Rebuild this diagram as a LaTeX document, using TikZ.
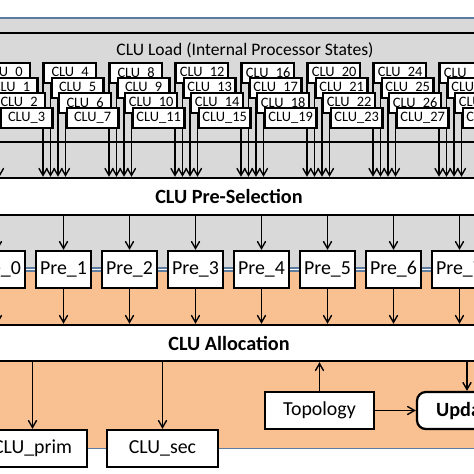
\documentclass[tikz,border=0pt]{standalone}
\usepackage{fontspec}
\setmainfont{Carlito}
\usetikzlibrary{arrows,positioning}
\definecolor{loadgray}{HTML}{D9D9D9}
\definecolor{allocorange}{HTML}{F9C091}
\definecolor{frameblue}{HTML}{5B7BA0}
\tikzset{
	>=angle 60, % open heads
	flow/.style={->, line width=0.8pt},
	feed/.style={->, line width=0.8pt},
	frame/.style={draw=frameblue, line width=1.1pt},
	link/.style={draw=frameblue, line width=0.8pt, double=white, double distance=1.1pt},
	box/.style={draw, fill=white, line width=1.3pt, inner sep=0pt},
	card/.style={box, anchor=north west, minimum width=1.04cm, minimum height=0.4cm, font=\fontsize{8.2}{9}\selectfont},
	unit/.style={box, minimum width=1.1cm, minimum height=0.74cm, font=\fontsize{11.3}{13}\selectfont},
	stage/.style={draw, fill=white, line width=1.4pt, minimum width=10.8cm, font=\bfseries\fontsize{11.5}{14}\selectfont},
}
\begin{document}
\begin{tikzpicture}[x=0.02cm, y=-0.02cm]
	\useasboundingbox (0,0) rectangle (474,474);
	\clip (0,0) rectangle (474,474);
	% background bands
	\fill[loadgray] (-10,18) rectangle (484,270);
	\fill[allocorange] (-10,270) rectangle (484,448.5);
	\draw[frame] (-10,18) -- (484,18);
	\draw[frame] (-10,448.5) -- (484,448.5);

	% stages
	\node[stage, fill=loadgray, minimum height=2.18cm] (load) at (237,87.5) {};
	\node[font=\fontsize{10}{12}\selectfont] (loadtitle) at (245,50) {CLU Load (Internal Processor States)};
	\node[stage, minimum height=0.74cm] (presel) at (229,196.5) {CLU Pre-Selection};
	\node[stage, minimum height=0.72cm] (alloc) at (229,343) {CLU Allocation};

	% CLU cards, four per stack
	\foreach \g in {0,...,7}
		\foreach \j in {0,...,3}{
			\pgfmathtruncatemacro{\n}{4*\g+\j}
			\coordinate (c\n) at ({-23+66*\g+7.5*\j},{62+15*\j});
		}
	\foreach \n in {0,...,31}
		\draw[feed] (c\n) -- (c\n |- presel.north);
	\foreach \n in {0,...,31}
		\node[card] (clu\n) at (c\n) {CLU\_\n};

	% pre-selection units
	\foreach \i in {0,...,7}
		\node[unit] (pre\i) at ({-2.5+66*\i},269.5) {Pre\_\i};
	\foreach \i [evaluate=\i as \k using int(\i+1)] in {0,...,6}
		\draw[link] (pre\i.east) -- (pre\k.west);
	\foreach \i in {0,...,7}{
		\draw[flow] (presel.south -| pre\i.north) -- (pre\i.north);
		\draw[flow] (pre\i.south) -- (alloc.north -| pre\i.south);
	}

	% allocation outputs
	\node[unit, minimum width=2.18cm] (prim) at (32.5,448.5) {CLU\_prim};
	\node[unit, minimum width=2.22cm] (sec) at (162.5,448.5) {CLU\_sec};
	\node[unit, minimum width=2.18cm] (topo) at (319.5,410.5) {Topology};
	\node[unit, rounded corners=5pt, minimum width=2cm, font=\bfseries\fontsize{11.5}{14}\selectfont] (upd) at (467,410.5) {Update};

	\draw[flow] (alloc.south -| prim.north) -- (prim.north);
	\draw[flow] (alloc.south -| sec.north) -- (sec.north);
	\draw[flow] (topo.north) -- (alloc.south -| topo.north);
	\draw[flow] (topo.east) -- (upd.west);
	\draw[flow] (alloc.south -| upd.north) -- (upd.north);
\end{tikzpicture}
\end{document}
